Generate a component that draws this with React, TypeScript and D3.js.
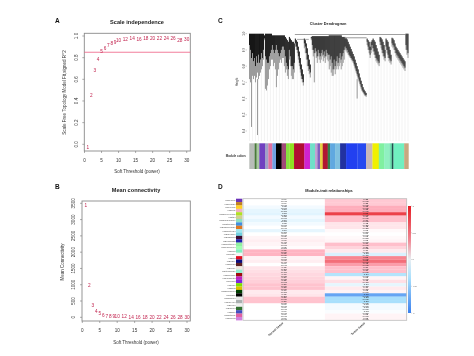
import React from "react";
import * as d3 from "d3";

const FONT = "'Liberation Sans', Arial, sans-serif";

// Panels A and B
const powers = [1,2,3,4,5,6,7,8,9,10,12,14,16,18,20,22,24,26,28,30];
const fitR2 = [-0.025,0.455,0.68,0.785,0.86,0.885,0.915,0.93,0.945,0.957,0.97,0.975,0.972,0.975,0.975,0.975,0.98,0.978,0.963,0.966];
const meanK = [3440,975,370,175,113,60,40,25,20,18,16,14,12,10,9,8,7,6,5,5];
const fitTicks = [0,0.2,0.4,0.6,0.8,1.0];
const kTicks = [0,500,1000,1500,2000,2500,3000,3500];
const powerTicks = [0,5,10,15,20,25,30];

// Panel C: one entry per column of the dendrogram, heights on the axis scale
const treeTop = [
  1,1,1,1,1,1,1,1,1,1,1,1,1,1,1, .99, 1,1,1,1,1,1,1, .99,.99,.99,.99,.99,.99,.99,.99,.99,.99,.99,
  .99,.99,.98,.97,.96,.95, .98,.97,.96,.95,.95,.94, .97,.96,.95,.92,.89,.85,.81,.78,.75, .97,.96,.94,.91,.87,.84,.81, .98,
  .985,.985,.985,.985,.985,.985,.985,.985,.985,.985,.985,.985,.985,.985,.985,.985,.985,
  .99,.99,.99,.99,.99,.99,.99,.99,.99,.99,.99,.99,.99,.98,.98,.98,
  .98,.975,.965,.95,.935,.92,.905,.89,.875,.86,.84,.82,.8,.78,.755,.73,.71,.69,.67,.655,.645,.635,
  .97,.96,.95,.92,.95,.96,.97,.96,.95,.93,.91,.89,.87,
  .98,.975,.965,.95,.93,.9,.97,.96,.95,.92,.9,.87,.975,.97,.96,.94,.92,.91,.9,.89,.88,.87,.86,.85,.84,.83,
  1,1,1,
];
const treeDark = [
  .93,.9,.85,.88,.83,.85,.8,.86,.82,.87,.82,.84,.88,.85,.9, .97, .86,.84,.82,.82,.86,.88,.9,
  .93,.9,.88,.9,.93,.9,.88,.86,.88,.9,.92,
  .92,.9,.86,.82,.8,.78, .9,.86,.8,.8,.78,.82, .94,.92,.9,.86,.82,.78,.74,.72,.7, .94,.92,.88,.84,.8,.78,.76, .97,
  .93,.9,.88,.91,.89,.86,.9,.88,.86,.88,.9,.87,.89,.86,.9,.88,.87,
  .87,.84,.86,.82,.78,.84,.8,.83,.86,.82,.85,.88,.84,.86,.88,.9,
  .92,.91,.9,.885,.87,.86,.85,.84,.83,.81,.79,.77,.75,.73,.71,.69,.67,.65,.64,.63,.62,.62,
  .95,.92,.9,.87,.9,.93,.91,.89,.87,.85,.84,.83,.82,
  .95,.93,.9,.88,.86,.85,.92,.9,.87,.85,.84,.83,.94,.93,.92,.9,.88,.87,.86,.85,.84,.83,.82,.81,.8,.79,
  .93,.9,.88,
];
const treeGrey = [
  .72,.7,.72,.74,.72,.74,.7,.73,.76,.72,.74,.76,.78,.8,.84, .96, .66,.65,.68,.72,.78,.8,.84,
  .84,.8,.82,.78,.67,.74,.78,.82,.84,.82,.85,
  .85,.8,.76,.78,.74,.72, .84,.8,.74,.72,.72,.76, .92,.9,.88,.84,.8,.76,.72,.7,.68, .91,.88,.84,.8,.77,.75,.73, .96,
  .9,.86,.7,.88,.85,.82,.86,.84,.82,.84,.86,.83,.85,.82,.86,.84,.83,
  .78,.8,.76,.74,.74,.78,.75,.78,.8,.78,.8,.82,.78,.8,.82,.84,
  .9,.89,.88,.87,.86,.85,.84,.83,.82,.8,.78,.76,.74,.72,.7,.68,.66,.645,.635,.625,.615,.61,
  .93,.9,.88,.85,.88,.91,.89,.87,.85,.83,.82,.81,.8,
  .93,.91,.88,.86,.84,.83,.9,.88,.85,.83,.82,.81,.92,.91,.9,.88,.86,.85,.84,.83,.82,.81,.8,.79,.78,.77,
  .9,.87,.85,
];
const treeSpikeCol = [2,8,108];
const treeSpikeEnd = [.425,.375,.6];
const heightTicks = [1,.9,.8,.7,.6,.5,.4];

const moduleBarWidths = [16,6,8,17,10,12,11,17,13,10,14,31,17,15,7,8,8,15,7,15,15,18,34,26,19,19,16,16,7,5,32,13];
const moduleBarColors = ["#b8bdb8","#4a7a3a","#a8c8a0","#7040c0","#a0a0c8","#e070a0","#70a0e0","#050505","#a04878","#88e040","#90e020","#b01030","#d020d0","#70e0c8","#c0a0d0","#8060c0","#e8d040","#b01830","#308050","#60a8e0","#80c0e0","#2030a0","#2040f0","#2848f0","#c8b8b8","#f0f000","#80f0a0","#90f0c0","#70e0b0","#205050","#70f0c0","#c8a880"];

// Panel D
const moduleColors = ["#6a30b8","#c08020","#ffd020","#f0b0c0","#b0e020","#d0d090","#90e0c0","#4090e0","#e07820","#a0e8f0","#70d0e0","#401030","#2020b0","#90f0a0","#a0ffb0","#80f0c0","#f4f4f4","#e01020","#101080","#602020","#f0e8e0","#90f0d0","#a01010","#c020c0","#8020e0","#80e000","#e0c000","#004000","#050505","#e8e8e8","#aab0b0","#f0f0f0","#307030","#4050c0","#e060a0","#d080e0"];
const moduleNames = ["MEpurple","MEorange","MEyellow","MEpink","MEgreenyellow","MEtan","MEaquamarine","MEsteelblue","MEdarkorange","MElightcyan","MEskyblue","MEdarkred","MEmidnight","MElightgreen","MEpalegreen","MEmint","MEwhite","MEred","MEnavy","MEbrown","MEivory","MEturquoise","MEfirebrick","MEmagenta","MEviolet","MElime","MEgold","MEdarkgreen","MEblack","MEsalmon","MEgrey60","MEplum","MEgreen","MEblue","MEhotpink","MEorchid"];
const traitLeft = [0,0,-.05,-.1,-.12,-.05,-.1,-.05,0,-.1,0,.05,.08,.05,.02,.35,.35,.05,.08,0,.12,.15,.18,.2,.22,.28,.28,.1,.12,.28,.28,0,0,0,0,0];
const traitRight = [.25,.25,.38,.38,.85,.3,.3,.12,.12,.03,0,.03,.05,.3,.2,.1,-.15,.55,.65,.45,.3,.3,-.3,.05,.15,-.1,.1,.05,-.75,-.35,-.35,-.05,-.05,-.02,.05,.05];
const pLeft = [.9,.9,.6,.3,.2,.6,.3,.6,.9,.3,.9,.6,.4,.6,.8,.01,.01,.6,.4,.9,.2,.1,.05,.05,.03,.01,.01,.3,.2,.01,.01,.9,.9,.9,.9,.9];
const pRight = [.01,.01,.01,.01,.01,.01,.01,.2,.2,.8,.9,.8,.6,.01,.05,.3,.1,.01,.01,.01,.01,.01,.01,.6,.1,.3,.3,.6,.01,.01,.01,.6,.6,.8,.6,.6];
const legendTicks = [1,.5,0,-.5,-1];
const traits = ["Normal tissue","Tumor tissue"];

const heat = d3.scaleLinear<string>()
  .domain([-1,-.35,0,.35,1])
  .range(["#3b80ee","#a8dffc","#ffffff","#ffb4c2","#e61c24"]);

function RPlot({box, xRange, yRange, yDomain, title, ylab, values, yTicks, tickX, ticksY, titleY, xlabY, ylabX, ylabCY, cx, h}: any) {
  const x = d3.scaleLinear().domain([0,30]).range(xRange);
  const y = d3.scaleLinear().domain(yDomain).range(yRange);
  const ink = "#333";
  return (
    <g fontFamily={FONT}>
      <text x={cx} y={titleY} textAnchor="middle" fontSize={5.6} fontWeight="bold" fill="#222">{title}</text>
      <rect x={box[0]} y={box[1]} width={box[2]-box[0]} height={box[3]-box[1]} fill="white" stroke="#8a8a8a" strokeWidth={0.9}/>
      {h !== undefined && <line x1={box[0]} x2={box[2]} y1={y(h)} y2={y(h)} stroke="#ee5c80" strokeWidth={0.8}/>}
      {powerTicks.map(t => (
        <g key={t}>
          <line x1={x(t)} x2={x(t)} y1={box[3]} y2={box[3]+2} stroke="#777" strokeWidth={0.6}/>
          <text x={x(t)} y={ticksY} textAnchor="middle" fontSize={4.6} fill={ink}>{t}</text>
        </g>
      ))}
      {yTicks.map((t: number) => (
        <g key={t}>
          <line x1={box[0]-2} x2={box[0]} y1={y(t)} y2={y(t)} stroke="#777" strokeWidth={0.6}/>
          <text transform={`translate(${tickX},${y(t)}) rotate(-90)`} textAnchor="middle" fontSize={4.6} fill={ink}>{yDomain[1] <= 1 ? t.toFixed(1) : t}</text>
        </g>
      ))}
      <text x={cx} y={xlabY} textAnchor="middle" fontSize={4.5} fill={ink}>Soft Threshold (power)</text>
      <text transform={`translate(${ylabX},${ylabCY}) rotate(-90)`} textAnchor="middle" fontSize={4.5} fill={ink}>{ylab}</text>
      {powers.map((p,i) => (
        <text key={p} x={x(p)} y={y(values[i])+1.7} textAnchor="middle" fontSize={4.7} fill="#c2234e">{p}</text>
      ))}
    </g>
  );
}

function Dendrogram() {
  const x = d3.scaleLinear().domain([0,treeDark.length]).range([249,408.5]);
  const y = d3.scaleLinear().domain([1,.4]).range([33.7,131]);
  const bar = d3.scaleLinear().domain([0,d3.sum(moduleBarWidths)]).range([249.3,408.5]);
  let acc = 0;
  return (
    <g fontFamily={FONT}>
      <text x={328} y={25} textAnchor="middle" fontSize={3.8} fontWeight="bold" fill="#222">Cluster Dendrogram</text>
      {treeDark.map((_,i) => i % 3 === 0 ? <line key={i} x1={x(i)+.5} x2={x(i)+.5} y1={y(treeGrey[i])} y2={141} stroke="#eeeeee" strokeWidth={0.7}/> : null)}
      {treeDark.map((d,i) => (
        <g key={i}>
          <line x1={x(i)+.5} x2={x(i)+.5} y1={y(d)} y2={y(treeGrey[i])} stroke="#8f8f8f" strokeWidth={0.9}/>
          <line x1={x(i)+.5} x2={x(i)+.5} y1={y(treeTop[i])} y2={y(d)} stroke="#080808" strokeWidth={0.95}/>
        </g>
      ))}
      {treeSpikeCol.map((c,i) => <line key={c} x1={x(c)+.5} x2={x(c)+.5} y1={y(.72)} y2={y(treeSpikeEnd[i])} stroke="#9a9a9a" strokeWidth={1}/>)}
      <line x1={x(46)} x2={x(157)} y1={y(.995)} y2={y(.995)} stroke="#777" strokeWidth={0.7}/>
      <line x1={x(96)} x2={x(118)} y1={y(.975)} y2={y(.975)} stroke="#aaa" strokeWidth={1.2}/>
      <line x1={x(48)} x2={x(60)} y1={y(.965)} y2={y(.965)} stroke="#555" strokeWidth={0.5}/>
      {heightTicks.map(t => (
        <g key={t}>
          <line x1={245.5} x2={247} y1={y(t)} y2={y(t)} stroke="#888" strokeWidth={0.4}/>
          <text transform={`translate(${244.5},${y(t)}) rotate(-90)`} textAnchor="middle" fontSize={3} fill="#333">{t.toFixed(1)}</text>
        </g>
      ))}
      <text transform={`translate(${238},${82}) rotate(-90)`} textAnchor="middle" fontSize={3} fill="#333">Height</text>
      <g>
        {moduleBarWidths.map((w,i) => {
          const x0 = bar(acc); acc += w;
          return <rect key={i} x={x0} y={143.3} width={bar(acc)-x0+.2} height={25.7} fill={moduleBarColors[i]}/>;
        })}
      </g>
      <text x={246} y={157} textAnchor="end" fontSize={3} fontWeight="bold" fill="#333">Module colors</text>
    </g>
  );
}

function Heatmap() {
  const n = moduleColors.length;
  const rows = d3.scaleBand<number>().domain(d3.range(n)).range([198.7,320.3]);
  const cols = d3.scaleBand<number>().domain([0,1]).range([243,406.7]);
  const leg = d3.scaleLinear().domain([1,-1]).range([206,313]);
  const rh = rows.bandwidth();
  return (
    <g fontFamily={FONT}>
      <defs>
        <linearGradient id="lg" x1="0" y1="0" x2="0" y2="1">
          {[1,.35,0,-.35,-1].map(v => <stop key={v} offset={(1-v)/2} stopColor={v===0 ? "#e8eef2" : v===.35 ? "#f08a96" : heat(v)}/>)}
        </linearGradient>
      </defs>
      <text x={329} y={192} textAnchor="middle" fontSize={3.9} fontWeight="bold" fill="#222">Module-trait relationships</text>
      {moduleColors.map((c,i) => (
        <g key={i}>
          <rect x={236} y={rows(i)} width={6.3} height={rh+.1} fill={c}/>
          <text x={235.5} y={rows(i)!+rh/2+.8} textAnchor="end" fontSize={2.4} fill="#555">{moduleNames[i]}</text>
          {[traitLeft[i],traitRight[i]].map((v,j) => (
            <rect key={j} x={cols(j)} y={rows(i)} width={cols.bandwidth()+.1} height={rh+.1} fill={heat(v)}/>
          ))}
        </g>
      ))}
      <rect x={243} y={198.7} width={163.7} height={121.6} fill="none" stroke="#bdbdbd" strokeWidth={0.8}/>
      {moduleColors.map((_,i) => [traitLeft[i],traitRight[i]].map((v,j) => {
        const cx = cols(j)!+cols.bandwidth()/2;
        const cy = rows(i)!+rh/2;
        return (
          <text key={`${i}-${j}`} x={cx} textAnchor="middle" fontSize={2.5} fill="#222">
            <tspan x={cx} y={cy-.1}>{v.toFixed(2)}</tspan>
            <tspan x={cx} y={cy+1.8}>({(j===0?pLeft:pRight)[i].toFixed(2)})</tspan>
          </text>
        );
      }))}
      {traits.map((t,j) => (
        <text key={t} transform={`translate(${cols(j)!+cols.bandwidth()/2-.5},${323.5}) rotate(-42)`} textAnchor="end" fontSize={2.9} fontWeight="bold" fill="#444">{t}</text>
      ))}
      <rect x={408} y={206} width={3} height={107} fill="url(#lg)"/>
      {legendTicks.map(t => (
        <g key={t}>
          <line x1={411} x2={412} y1={leg(t)} y2={leg(t)} stroke="#888" strokeWidth={0.3}/>
          <text x={412.5} y={leg(t)+.8} fontSize={2.4} fill="#555">{t}</text>
        </g>
      ))}
    </g>
  );
}

export default function App() {
  return (
    <svg width={474} height={356} viewBox="0 0 474 356" style={{position:"absolute",left:0,top:0,background:"white"}}>
      <defs>
        <filter id="soft" x="0" y="0" width="100%" height="100%" filterUnits="userSpaceOnUse">
          <feGaussianBlur stdDeviation="0.3"/>
        </filter>
      </defs>
      <g filter="url(#soft)">
        <rect width={474} height={356} fill="white"/>
        <g fontFamily={FONT} fontWeight="bold" fontSize={6.5} fill="#111">
          <text x={55} y={23}>A</text>
          <text x={55} y={189}>B</text>
          <text x={218} y={23}>C</text>
          <text x={218} y={189}>D</text>
        </g>
        <RPlot box={[84.3,33.3,190.3,151]} xRange={[84.5,186.7]} yRange={[144.3,36]} yDomain={[0,1]} h={.85}
          title="Scale independence" ylab="Scale Free Topology Model Fit,signed R^2" values={fitR2} yTicks={fitTicks}
          tickX={77.5} ticksY={161.5} titleY={24} xlabY={173} ylabX={66} ylabCY={92.5} cx={137}/>
        <RPlot box={[82,201,190.3,321]} xRange={[82.3,187]} yRange={[317.3,203.3]} yDomain={[0,3500]}
          title="Mean connectivity" ylab="Mean Connectivity" values={meanK} yTicks={kTicks}
          tickX={74.5} ticksY={331.5} titleY={191.5} xlabY={343.5} ylabX={63.5} ylabCY={262} cx={136}/>
        <Dendrogram/>
        <Heatmap/>
      </g>
    </svg>
  );
}
